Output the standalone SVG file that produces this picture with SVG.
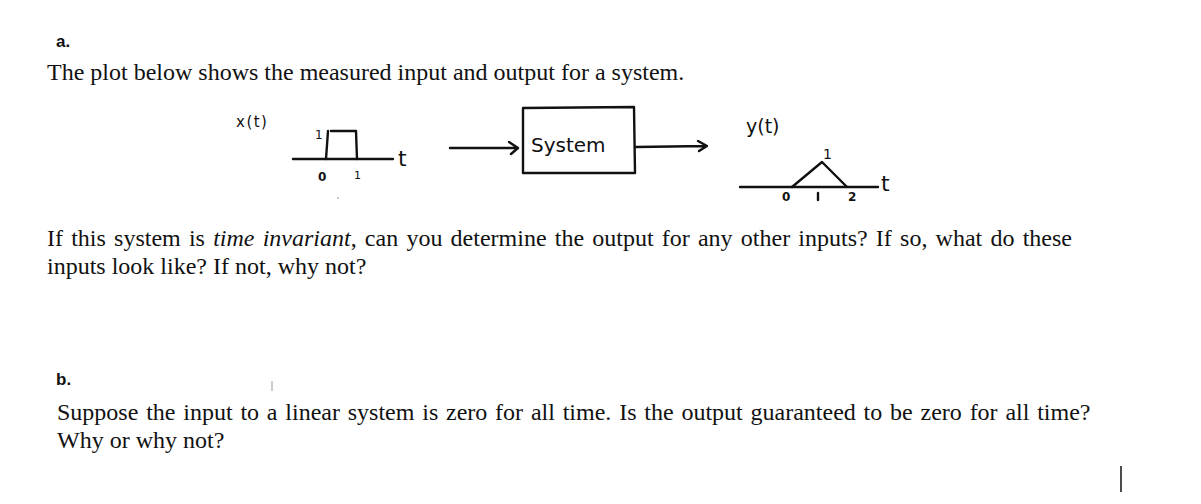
<svg xmlns="http://www.w3.org/2000/svg" width="1201" height="504" viewBox="0 0 1201 504">
<style>
.hd{font-family:"Liberation Sans",Arial,sans-serif;font-weight:bold;font-size:17px;fill:#111}
.tx{font-family:"Liberation Serif","Times New Roman",serif;font-size:24px;fill:#111}
.hw{font-family:"DejaVu Sans","Liberation Sans",sans-serif;fill:#111}
.ink{fill:none;stroke:#111;stroke-width:2.4;stroke-linecap:round;stroke-linejoin:round}
</style>
<rect width="1201" height="504" fill="#fff"/>
<text class="hd" x="56" y="47">a.</text>
<text class="tx" x="47" y="80">The plot below shows the measured input and output for a system.</text>

<g id="input-plot">
<text class="hw" x="236" y="127" font-size="15" letter-spacing="1.5">x(t)</text>
<text class="hw" x="315" y="139" font-size="12">1</text>
<path class="ink" d="M293 159 L393 159"/>
<path class="ink" d="M326 159 L328 131 M331 131 L356 131 L357 159"/>
<text class="hw" x="398" y="166" font-size="22">t</text>
<text class="hw" x="318" y="181" font-size="12" font-weight="bold">0</text>
<text class="hw" x="354" y="179" font-size="11">1</text>
<circle cx="338" cy="198" r="0.8" fill="#888"/>
</g>

<g id="system">
<path class="ink" d="M523 108 L634 107 L635 173 L523 173 Z"/>
<text class="hw" x="531" y="152" font-size="20">System</text>
</g>

<g id="connectors">
<path class="ink" d="M450 148 L517 148 M509 142 L518 148 L511 154"/>
<path class="ink" d="M636 147 L706 146 M698 141 L707 146 L699 151"/>
</g>

<g id="output-plot">
<text class="hw" x="746" y="133" font-size="19">y(t)</text>
<text class="hw" x="823" y="159" font-size="14">1</text>
<path class="ink" d="M740 187 L878 187"/>
<path class="ink" d="M792 187 L822 162 L847 187"/>
<text class="hw" x="881" y="191" font-size="22">t</text>
<text class="hw" x="782" y="201" font-size="12" font-weight="bold">0</text>
<path class="ink" d="M818 193 L818 200" stroke-width="1.6"/>
<text class="hw" x="848" y="201" font-size="12" font-weight="bold">2</text>
</g>

<text class="tx" x="47" y="246" word-spacing="2.2">If this system is <tspan font-style="italic">time invariant</tspan>, can you determine the output for any other inputs?  If so, what do these</text>
<text class="tx" x="47" y="274">inputs look like? If not, why not?</text>

<text class="hd" x="56" y="385">b.</text>
<line x1="272" y1="381" x2="272" y2="391" stroke="#999" stroke-width="1"/>
<text class="tx" x="57" y="420" word-spacing="1.8">Suppose the input to a linear system is zero for all time.  Is the output guaranteed to be zero for all time?</text>
<text class="tx" x="57" y="448">Why or why not?</text>
<line x1="1121" y1="466" x2="1121" y2="492" stroke="#111" stroke-width="1.5"/>
</svg>
